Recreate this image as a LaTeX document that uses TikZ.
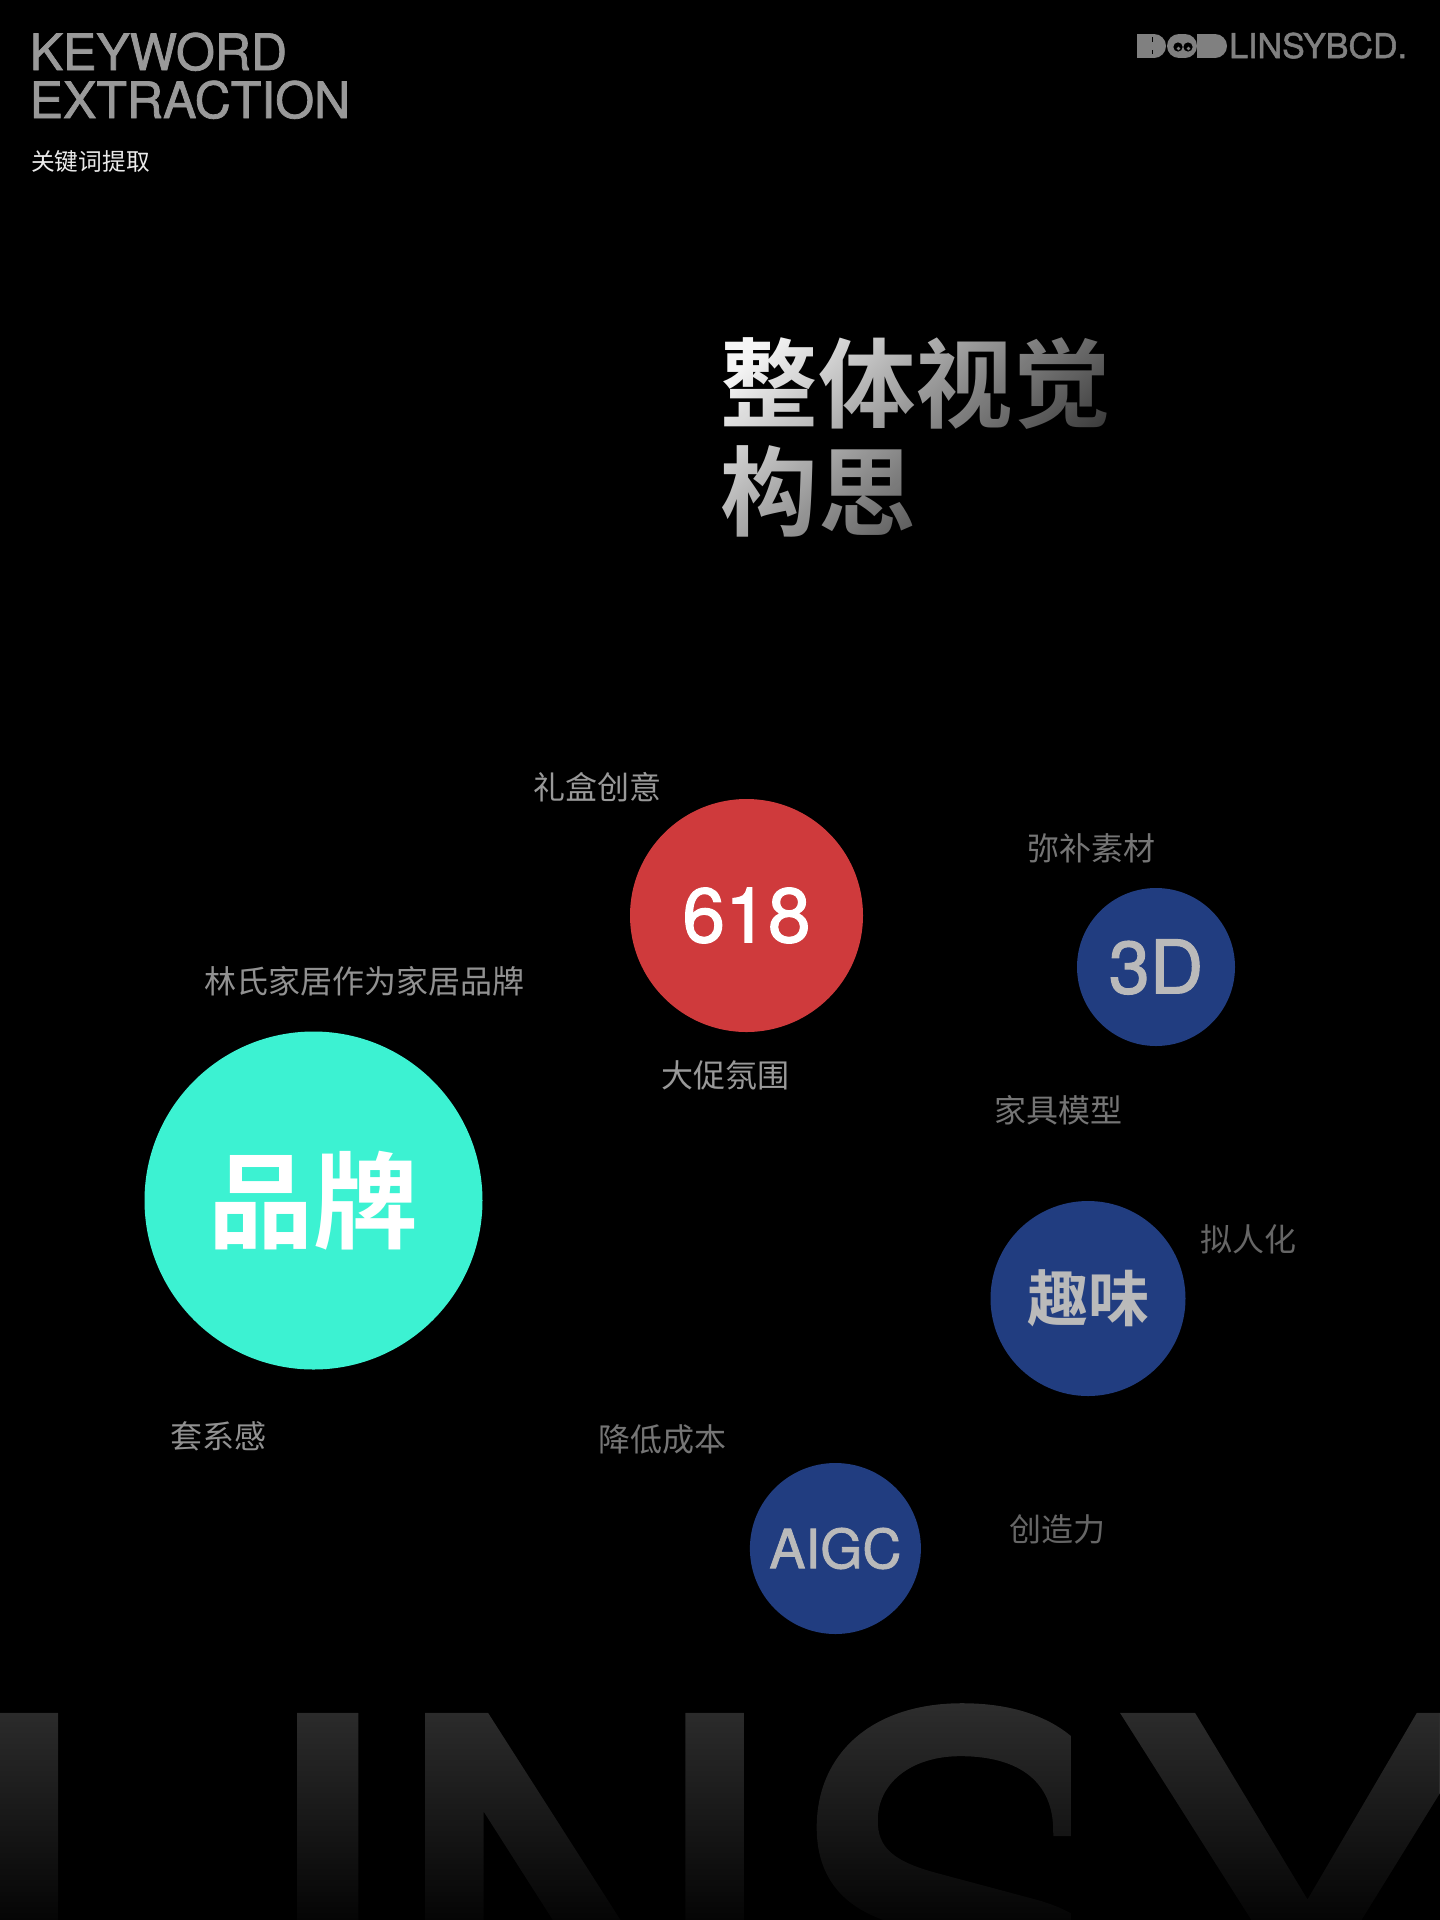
\documentclass[tikz,border=0pt]{standalone}
\usepackage{fontspec}
\usetikzlibrary{fadings}
\setmainfont{TeX Gyre Heros}
\newfontfamily\cjk{Noto Sans CJK SC}
\newfontfamily\cjkb{Noto Sans CJK SC Bold}[BoldFont={}]
\newfontfamily\bigfont{TeX Gyre Heros}[FakeBold=2]
\newfontfamily\medfont{TeX Gyre Heros}[FakeBold=1.5]
\definecolor{teal}{HTML}{3CF2D2}
\definecolor{redc}{HTML}{CF3A3C}
\definecolor{bluec}{HTML}{213D80}
\newcommand{\fs}[1]{\fontsize{#1pt}{#1pt}\selectfont}
\tikzfading[name=titlefade,left color=transparent!100,right color=transparent!12]
\tikzfading[name=bottomfade,top color=transparent!100,bottom color=transparent!12]
\tikzset{
  bubble/.style={circle,inner sep=0pt,minimum size=#1},
  keyw/.style={inner sep=0pt,font=\cjk\fs{32}},
  blk/.style={inner sep=0pt,anchor=base west},
}
\begin{document}
\begin{tikzpicture}[x=1pt,y=-1pt]
\useasboundingbox (0,0) rectangle (1440,1920);
\fill[black] (0,0) rectangle (1440,1920);
% header
\node[blk,text=white!60!black,font=\medfont\fs{50}] (kw) at (29.5,70) {KEYWORD};
\node[blk,text=white!60!black,font=\medfont\fs{50}] (ex) at (29.5,118) {EXTRACTION};
\node[keyw,text=white!92!black,font=\cjk\fs{23.7}] (kwcn) at (90.5,162) {关键词提取};
% logo
\begin{scope}[fill=white!50!black]
\fill (1137,34) rectangle (1154,58);
\fill (1154,46) circle[radius=12];
\fill (1179,46) circle[radius=12];
\fill (1185,46) circle[radius=12];
\fill (1179,34) rectangle (1185,58);
\fill (1197,34) rectangle (1215,58);
\fill (1215,46) circle[radius=12];
\end{scope}
\fill[black] (1151.5,37) rectangle (1153,42);
\fill[black] (1151.5,50) rectangle (1153,54);
\fill[black] (1178,47) circle[radius=4.6];
\fill[black] (1188,47) circle[radius=4.6];
\fill[white!50!black] (1178.5,48.5) circle[radius=1.8];
\fill[white!50!black] (1188.5,48.5) circle[radius=1.8];
\node[blk,text=white!50!black,font=\medfont\fs{34}] (logo) at (1229,58) {LINSYBCD.};
% title
\node[inner sep=0pt,text=white!96!black,font=\cjkb\fs{97.5},anchor=base west] (t1) at (720.5,420) {整体视觉};
\node[inner sep=0pt,text=white!96!black,font=\cjkb\fs{97.5},anchor=base west] (t2) at (720.5,528) {构思};
\fill[black,path fading=titlefade,fading angle=-30] (700,320) rectangle (1130,550);
% circles
\node[bubble=233pt,fill=redc,text=white,font=\medfont\fs{77}] (a) at (746.5,915.5) {618};
\node[bubble=158pt,fill=bluec,text=white!73!black,font=\medfont\fs{74}] (b) at (1156,967) {3D};
\node[bubble=338pt,fill=teal,text=white,font=\cjkb\fs{105}] (c) at (313.5,1200.5) {品牌};
\node[bubble=195pt,fill=bluec,text=white!73!black,font=\cjkb\fs{61}] (d) at (1088,1298.5) {趣味};
\node[bubble=171pt,fill=bluec,text=white!73!black,font=\medfont\fs{54}] (e) at (835.4,1548.5) {AIGC};
% labels
\node[keyw,text=white!60!black] (l1) at (597,787) {礼盒创意};
\node[keyw,text=white!60!black] (l2) at (725,1075) {大促氛围};
\node[keyw,text=white!46!black] (l3) at (1091,848.5) {弥补素材};
\node[keyw,text=white!46!black] (l4) at (1058,1110) {家具模型};
\node[keyw,text=white!57!black] (l5) at (364,981) {林氏家居作为家居品牌};
\node[keyw,text=white!57!black] (l6) at (218,1436) {套系感};
\node[keyw,text=white!40!black] (l7) at (1248.5,1239) {拟人化};
\node[keyw,text=white!46!black] (l8) at (662,1439) {降低成本};
\node[keyw,text=white!40!black] (l9) at (1057,1529) {创造力};
% big word
\node[blk,text=white!18!black,font=\bigfont\fs{540}] (big) at (-41,2112) {L\kern-11pt I\kern-9.5pt N\kern5.5pt S\kern-22pt Y};
\fill[black] (1071,1690) rectangle (1118,1920);
\fill[black,path fading=bottomfade] (0,1700) rectangle (1440,1920);
\end{tikzpicture}
\end{document}
